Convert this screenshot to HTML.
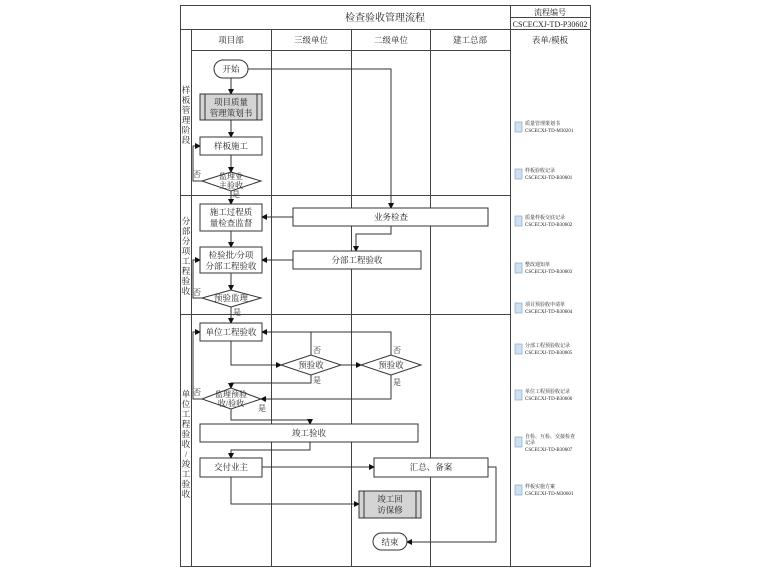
<!DOCTYPE html>
<html><head><meta charset="utf-8"><style>
html,body{margin:0;padding:0;background:#fff;width:760px;height:570px;overflow:hidden}
svg{display:block}
text{font-family:"Liberation Serif","Noto Serif CJK SC","Noto Sans CJK SC",serif;fill:#222}
</style></head><body>
<svg width="760" height="570" viewBox="0 0 760 570" xmlns="http://www.w3.org/2000/svg">
<defs><marker id="a" markerWidth="6" markerHeight="6" refX="5" refY="3" orient="auto" markerUnits="userSpaceOnUse"><path d="M0,0 L6,3 L0,6 z" fill="#111"/></marker></defs>
<g stroke="#444" stroke-width="1" fill="none">
<rect x="180.5" y="5.5" width="410" height="561"/>
<line x1="180" y1="29.5" x2="590" y2="29.5"/>
<line x1="510.5" y1="5" x2="510.5" y2="566"/>
<line x1="510" y1="17.5" x2="590" y2="17.5"/>
<line x1="191" y1="50.5" x2="510" y2="50.5"/>
<line x1="191.5" y1="29" x2="191.5" y2="566"/>
<line x1="271.5" y1="29" x2="271.5" y2="566"/>
<line x1="351.5" y1="29" x2="351.5" y2="566"/>
<line x1="430.5" y1="29" x2="430.5" y2="566"/>
<line x1="180" y1="195.5" x2="510" y2="195.5"/>
<line x1="180" y1="314.5" x2="510" y2="314.5"/>
</g>
<text x="385" y="21" font-size="10" text-anchor="middle">检查验收管理流程</text>
<text x="550" y="15" font-size="8" text-anchor="middle">流程编号</text>
<text x="550" y="27" font-size="8" text-anchor="middle">CSCECXJ-TD-P30602</text>
<g font-size="8.5" text-anchor="middle">
<text x="231" y="43">项目部</text><text x="311" y="43">三级单位</text><text x="391" y="43">二级单位</text><text x="470" y="43">建工总部</text><text x="550" y="43">表单/模板</text>
</g>
<g font-size="8.5" text-anchor="middle">
<text x="186" y="93">样</text><text x="186" y="103">板</text><text x="186" y="113">管</text><text x="186" y="123">理</text><text x="186" y="133">阶</text><text x="186" y="143">段</text>
<text x="186" y="224">分</text><text x="186" y="234">部</text><text x="186" y="244">分</text><text x="186" y="254">项</text><text x="186" y="264">工</text><text x="186" y="274">程</text><text x="186" y="284">验</text><text x="186" y="294">收</text>
<text x="186" y="397">单</text><text x="186" y="407">位</text><text x="186" y="417">工</text><text x="186" y="427">程</text><text x="186" y="437">验</text><text x="186" y="447">收</text><text x="186" y="457">/</text><text x="186" y="467">竣</text><text x="186" y="477">工</text><text x="186" y="487">验</text><text x="186" y="497">收</text>
</g>
<!-- connectors -->
<g stroke="#333" stroke-width="1" fill="none">
<path d="M231,78 V94" marker-end="url(#a)"/>
<path d="M248,69 H391 V208" marker-end="url(#a)"/>
<path d="M231,120 V137" marker-end="url(#a)"/>
<path d="M231,155 V172" marker-end="url(#a)"/>
<path d="M202,181 H193 V146 H200" marker-end="url(#a)"/>
<path d="M231,191 V204" marker-end="url(#a)"/>
<path d="M293,217 H262" marker-end="url(#a)"/>
<path d="M391,226 V234 H356 V251" marker-end="url(#a)"/>
<path d="M231,231 V247" marker-end="url(#a)"/>
<path d="M293,260 H262" marker-end="url(#a)"/>
<path d="M231,273 V290" marker-end="url(#a)"/>
<path d="M202,298 H193 V260 H200" marker-end="url(#a)"/>
<path d="M231,307 V323" marker-end="url(#a)"/>
<path d="M231,341 V365 H281" marker-end="url(#a)"/>
<path d="M341,365 H361" marker-end="url(#a)"/>
<path d="M391,355 V332 H262" marker-end="url(#a)"/>
<path d="M311,355 V332"/>
<path d="M311,375 V383 H231 V388" marker-end="url(#a)"/>
<path d="M391,375 V399 H261" marker-end="url(#a)"/>
<path d="M202,399 H193 V332 H200" marker-end="url(#a)"/>
<path d="M231,409 V420 H310 V424" marker-end="url(#a)"/>
<path d="M310,442 V450 H231 V458" marker-end="url(#a)"/>
<path d="M262,467 H374" marker-end="url(#a)"/>
<path d="M231,477 V504 H359" marker-end="url(#a)"/>
<path d="M488,467 H496 V542 H407" marker-end="url(#a)"/>
</g>
<!-- nodes -->
<g stroke="#333" stroke-width="1" fill="#fff">
<rect x="214" y="60" width="34" height="18" rx="9"/>
<rect x="200" y="94" width="62" height="26" fill="#d4d4d4"/>
<line x1="205" y1="94" x2="205" y2="120"/><line x1="257" y1="94" x2="257" y2="120"/>
<rect x="200" y="137" width="62" height="18"/>
<polygon points="202,181 231,172 261,181 231,191"/>
<rect x="200" y="204" width="62" height="27"/>
<rect x="293" y="208" width="195" height="18"/>
<rect x="200" y="247" width="62" height="26"/>
<rect x="293" y="251" width="128" height="18"/>
<polygon points="202,298 231,290 261,298 231,307"/>
<rect x="200" y="323" width="62" height="18"/>
<polygon points="281,365 311,355 341,365 311,375"/>
<polygon points="361,365 391,355 421,365 391,375"/>
<polygon points="202,399 231,388 261,399 231,409"/>
<rect x="200" y="424" width="218" height="18"/>
<rect x="200" y="458" width="62" height="19"/>
<rect x="374" y="458" width="114" height="19"/>
<rect x="359" y="491" width="62" height="27" fill="#d4d4d4"/>
<line x1="364" y1="491" x2="364" y2="518"/><line x1="416" y1="491" x2="416" y2="518"/>
<rect x="373" y="533" width="34" height="17" rx="8.5"/>
</g>
<g font-size="8.5" text-anchor="middle">
<text x="231" y="72">开始</text>
<text x="231" y="105">项目质量</text><text x="231" y="116">管理策划书</text>
<text x="231" y="149">样板施工</text>
<text x="231" y="179" font-size="8">监理业</text><text x="231" y="188" font-size="8">主验收</text>
<text x="197" y="177" font-size="8">否</text><text x="236" y="197" font-size="8">是</text>
<text x="231" y="215">施工过程质</text><text x="231" y="226">量检查监督</text>
<text x="391" y="220">业务检查</text>
<text x="231" y="258">检验批/分项</text><text x="231" y="269">分部工程验收</text>
<text x="357" y="263">分部工程验收</text>
<text x="231" y="301">预验监理</text>
<text x="197" y="295" font-size="8">否</text><text x="237" y="315" font-size="8">是</text>
<text x="231" y="335">单位工程验收</text>
<text x="311" y="368">预验收</text><text x="391" y="368">预验收</text>
<text x="317" y="353" font-size="8">否</text><text x="397" y="353" font-size="8">否</text>
<text x="317" y="383" font-size="8">是</text><text x="397" y="385" font-size="8">是</text>
<text x="231" y="397" font-size="8">监理预验</text><text x="231" y="406" font-size="8">收/验收</text>
<text x="197" y="395" font-size="8">否</text><text x="262" y="411" font-size="8">是</text>
<text x="309" y="436">竣工验收</text>
<text x="231" y="470">交付业主</text>
<text x="431" y="470">汇总、备案</text>
<text x="390" y="502">竣工回</text><text x="390" y="513">访保修</text>
<text x="390" y="545">结束</text>
</g>
<!-- forms -->
<g font-size="5">
<g fill="#cfe0f0" stroke="#7a9cc0" stroke-width="0.6">
<rect x="515" y="122" width="7" height="10"/><rect x="515" y="169" width="7" height="10"/><rect x="515" y="216" width="7" height="10"/>
<rect x="515" y="263" width="7" height="10"/><rect x="515" y="303" width="7" height="10"/><rect x="515" y="344" width="7" height="10"/>
<rect x="515" y="390" width="7" height="10"/><rect x="515" y="437" width="7" height="10"/><rect x="515" y="485" width="7" height="10"/>
</g>
<text x="525" y="125">质量管理策划书</text><text x="525" y="132">CSCECXJ-TD-M30201</text>
<text x="525" y="172">样板验收记录</text><text x="525" y="179">CSCECXJ-TD-B30601</text>
<text x="525" y="219">质量样板交底记录</text><text x="525" y="226">CSCECXJ-TD-B30602</text>
<text x="525" y="266">整改通知单</text><text x="525" y="273">CSCECXJ-TD-B30603</text>
<text x="525" y="306">项目预验收申请单</text><text x="525" y="313">CSCECXJ-TD-B30604</text>
<text x="525" y="347">分部工程预验收记录</text><text x="525" y="354">CSCECXJ-TD-B30605</text>
<text x="525" y="393">单位工程预验收记录</text><text x="525" y="400">CSCECXJ-TD-B30606</text>
<text x="525" y="438">自检、互检、交接检查</text><text x="525" y="444">记录</text><text x="525" y="451">CSCECXJ-TD-B30607</text>
<text x="525" y="488">样板实施方案</text><text x="525" y="495">CSCECXJ-TD-M30601</text>
</g>
</svg>
</body></html>
